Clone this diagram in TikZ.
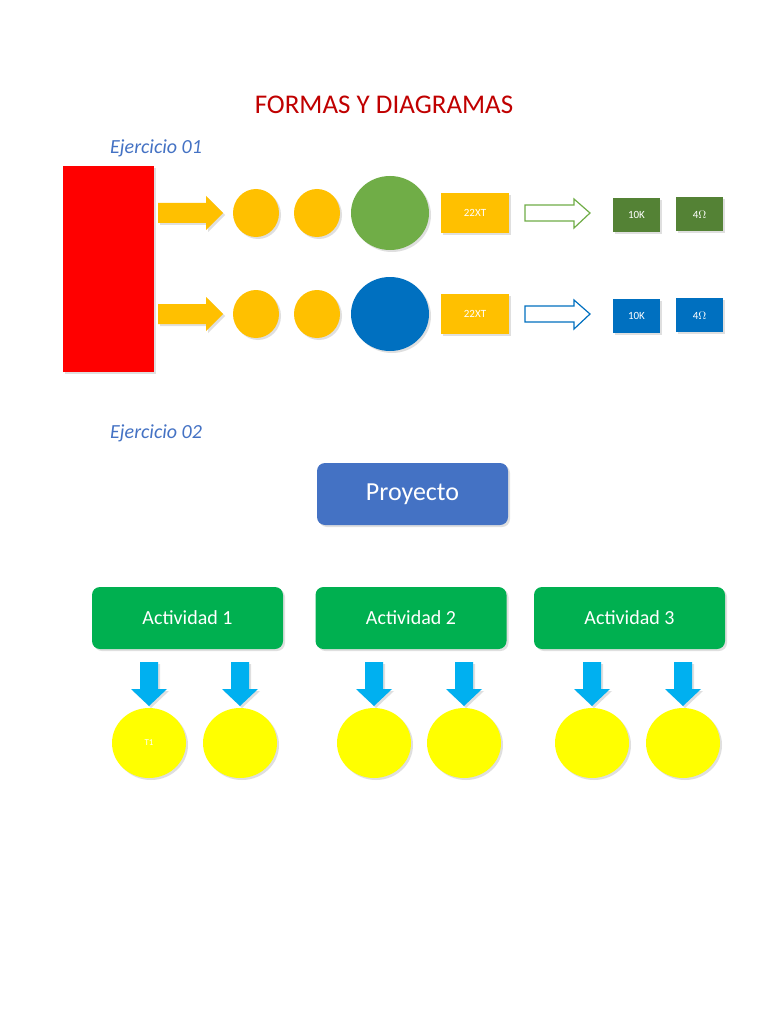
\documentclass[tikz,border=0pt]{standalone}
\usepackage{fontspec}
\setmainfont{Carlito}
\usetikzlibrary{shadows}
\definecolor{tred}{HTML}{C00000}
\definecolor{ejblue}{HTML}{4472C4}
\definecolor{orng}{HTML}{FFC000}
\definecolor{grn}{HTML}{70AD47}
\definecolor{dgrn}{HTML}{548235}
\definecolor{blu}{HTML}{0070C0}
\definecolor{actg}{HTML}{00B050}
\definecolor{sky}{HTML}{00B0F0}
\definecolor{yel}{HTML}{FFFF00}
\tikzset{
  shd/.style={drop shadow={opacity=0.25,shadow xshift=2pt,shadow yshift=-2pt}},
  ejlabel/.style={text=ejblue,font=\fontsize{20}{22}\selectfont\itshape,anchor=west,inner sep=0},
  dot/.style={ellipse,fill=orng,draw=none,minimum width=46,minimum height=48,shd,inner sep=0},
  xtbox/.style={rectangle,fill=orng,minimum width=68,minimum height=40,shd,text=white,font=\fontsize{11}{12}\selectfont},
  sqbox/.style={rectangle,minimum width=47,minimum height=34,shd,text=white,font=\fontsize{11}{12}\selectfont},
  actbox/.style={rectangle,rounded corners=8,fill=actg,minimum width=191,minimum height=62,shd,text=white,font=\fontsize{20}{22}\selectfont},
  yball/.style={ellipse,fill=yel,minimum width=74,minimum height=70,shd,inner sep=0,text=white,font=\fontsize{9}{10}\selectfont},
}
\usetikzlibrary{shapes.geometric}
\newcommand\barR[4]{% x1,x2,y,style
  \fill[#4] (#1,#3-10) -- (#2-17,#3-10) -- (#2-17,#3-17) -- (#2,#3) -- (#2-17,#3+17) -- (#2-17,#3+10) -- (#1,#3+10) -- cycle;}
\newcommand\oarR[4]{%
  \draw[#4,fill=white,line width=1.2pt] (#1,#3-8) -- (#2-16,#3-8) -- (#2-16,#3-14) -- (#2,#3) -- (#2-16,#3+15) -- (#2-16,#3+8) -- (#1,#3+8) -- cycle;}
\newcommand\darD[4]{% x,y1,y2,style
  \fill[#4] (#1-9,#2) -- (#1+9,#2) -- (#1+9,#3-17) -- (#1+18,#3-17) -- (#1,#3) -- (#1-18,#3-17) -- (#1-9,#3-17) -- cycle;}
\begin{document}
\begin{tikzpicture}[x=1pt,y=-1pt]
\useasboundingbox[fill=white] (0,0) rectangle (768,1024);
\node[text=tred,font=\fontsize{27}{30}\selectfont] (title) at (384,105) {FORMAS Y DIAGRAMAS};
\node[ejlabel] (ej1) at (110,148) {Ejercicio 01};
\node[ejlabel] (ej2) at (110,433) {Ejercicio 02};
\node[rectangle,fill=red,minimum width=91,minimum height=206,shd,inner sep=0] (red) at (108.5,269) {};
% rows
\foreach \y/\big/\sq/\r in {213/grn/dgrn/1,314/blu/blu/2}{
  \barR{158}{223}{\y}{fill=orng,shd}
  \node[dot] (a\r) at (256,\y) {};
  \node[dot] (b\r) at (317,\y) {};
  \node[ellipse,fill=\big,minimum width=78,minimum height=74,shd] (c\r) at (390,\y) {};
  \node[xtbox] (x\r) at (475,\y) {22XT};
  \oarR{525}{590}{\y}{draw=\big}
  \node[sqbox,fill=\sq] (k\r) at (636.5,\y+2) {10K};
  \node[sqbox,fill=\sq,text depth=0pt,anchor=north,inner sep=4pt,align=center,text height=9pt] (o\r) at (699.5,\y-16) {4$\Omega$};
}
\node[rectangle,rounded corners=8,fill=ejblue,minimum width=191,minimum height=62,shd,text=white,font=\fontsize{26}{28}\selectfont] (proj) at (412.5,494) {Proyecto};
\node[actbox] (act1) at (187.5,618) {Actividad 1};
\node[actbox] (act2) at (411,618) {Actividad 2};
\node[actbox] (act3) at (629.5,618) {Actividad 3};
\foreach \x/\n/\lab in {149/1/T1,240/2/,374/3/,464/4/,592/5/,683/6/}{
  \darD{\x}{662}{706}{fill=sky,shd}
  \node[yball] (y\n) at (\x,743) {\lab};
}
\end{tikzpicture}
\end{document}
